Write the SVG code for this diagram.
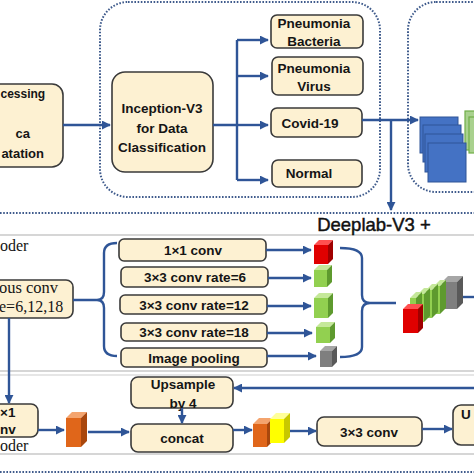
<svg xmlns="http://www.w3.org/2000/svg" width="474" height="474" viewBox="0 0 474 474">
<defs>
<style>
.bx{fill:#FDF1D2;stroke:#3A3A3A;stroke-width:1.6}
.t{font-family:"Liberation Sans",Arial,sans-serif;font-weight:bold;font-size:13.5px;fill:#151515;text-anchor:middle}
.s{font-family:"Liberation Serif","Times New Roman",serif;font-size:16px;fill:#151515}
.dot{fill:none;stroke:#3F5B8C;stroke-width:2;stroke-dasharray:1.6 1.6}
.gl{stroke:#D6D6D6;stroke-width:2}
.c{fill:none;stroke:#2F5597;stroke-width:2.4}
.a{fill:none;stroke:#2F5597;stroke-width:2.4;marker-end:url(#ah)}
.bl{fill:#4472C4;stroke:#2F5597;stroke-width:1}
.gr{fill:#A9D18E;stroke:#70AD47;stroke-width:1.2}
</style>
<marker id="ah" viewBox="0 0 10 10" refX="9" refY="5" markerWidth="9" markerHeight="9" markerUnits="userSpaceOnUse" orient="auto">
<path d="M0,0 L10,5 L0,10 z" fill="#2F5597"/>
</marker>
</defs>
<rect width="474" height="474" fill="#FFFFFF"/>

<g id="frames">
<rect class="dot" x="100" y="2" width="280" height="195" rx="28"/>
<rect class="dot" x="408" y="2" width="120" height="190" rx="28"/>
<line class="dot" x1="0" y1="213" x2="474" y2="213"/>
<line class="dot" x1="0" y1="472" x2="474" y2="472"/>
<line class="gl" x1="0" y1="235" x2="474" y2="235"/>
<line class="gl" x1="0" y1="371" x2="474" y2="371"/>
<line class="gl" x1="0" y1="375" x2="474" y2="375" stroke-opacity="0.6"/>
<line class="gl" x1="0" y1="454" x2="474" y2="454"/>
</g>

<g id="preprocessing">
<rect class="bx" x="-60" y="84" width="123" height="83" rx="11"/>
<text class="t" x="0.5" y="98" style="text-anchor:start;font-size:12px">cessing</text>
<text class="t" x="30" y="138" style="text-anchor:end;font-size:13px">ca</text>
<text class="t" x="44" y="158" style="text-anchor:end;font-size:13px">atation</text>
</g>

<g id="inception">
<rect class="bx" x="112" y="72" width="101" height="100" rx="13"/>
<text class="t" x="162" y="113">Inception-V3</text>
<text class="t" x="162" y="133">for Data</text>
<text class="t" x="162" y="152">Classification</text>
</g>

<g id="bacteria">
<rect class="bx" x="271" y="15" width="92" height="33" rx="6"/>
<text class="t" x="314" y="28">Pneumonia</text>
<text class="t" x="314" y="46">Bacteria</text>
</g>
<g id="virus">
<rect class="bx" x="272" y="57" width="91" height="38" rx="6"/>
<text class="t" x="314" y="73">Pneumonia</text>
<text class="t" x="314" y="91">Virus</text>
</g>
<g id="covid">
<rect class="bx" x="271" y="108" width="91" height="29" rx="6"/>
<text class="t" x="310" y="128">Covid-19</text>
</g>
<g id="normal">
<rect class="bx" x="272" y="160" width="90" height="27" rx="6"/>
<text class="t" x="309" y="178">Normal</text>
</g>

<g id="segmentation-output">
<rect class="gr" x="465" y="111" width="20" height="39"/>
<rect class="gr" x="469" y="117" width="20" height="36"/>
<rect class="bl" x="420" y="117" width="38" height="36"/>
<rect class="bl" x="423" y="125" width="38" height="37"/>
<rect class="bl" x="425" y="134" width="38" height="38"/>
<rect class="bl" x="428" y="143" width="38" height="39"/>
</g>

<g id="deeplab-title">
<text x="374" y="231" style="font-family:'Liberation Sans',Arial,sans-serif;font-size:18.5px;fill:#111;stroke:#111;stroke-width:0.45;text-anchor:middle">Deeplab-V3 +</text>
</g>

<g id="encoder-label">
<text class="s" x="0" y="251">oder</text>
</g>

<g id="atrous">
<rect class="bx" x="-40" y="280" width="113" height="38" rx="7"/>
<text class="s" x="-1" y="293" style="font-size:16.5px">ous conv</text>
<text class="s" x="-1" y="312">e=6,12,18</text>
</g>

<g id="conv1x1">
<rect class="bx" x="119" y="239" width="147" height="22" rx="5"/>
<text class="t" x="193" y="255">1×1 conv</text>
</g>
<g id="rate6">
<rect class="bx" x="121" y="267" width="147" height="20" rx="5"/>
<text class="t" x="195" y="282">3×3 conv rate=6</text>
</g>
<g id="rate12">
<rect class="bx" x="120" y="295" width="147" height="19" rx="5"/>
<text class="t" x="194" y="309.5">3×3 conv rate=12</text>
</g>
<g id="rate18">
<rect class="bx" x="121" y="323" width="146" height="18" rx="5"/>
<text class="t" x="194" y="337">3×3 conv rate=18</text>
</g>
<g id="pooling">
<rect class="bx" x="121" y="348" width="146" height="19" rx="5"/>
<text class="t" x="194" y="362.5">Image pooling</text>
</g>

<g id="feature-cubes">
<path d="M314,245 l5,-5 h14 l-5,5 z" fill="#FF5050"/>
<path d="M328,245 l5,-5 v19 l-5,5 z" fill="#A00000"/>
<rect x="314" y="245" width="14" height="19" fill="#E00000"/>
<path d="M314,270 l5,-5 h13 l-5,5 z" fill="#C5E89A"/>
<path d="M327,270 l5,-5 v17 l-5,5 z" fill="#5E9A2E"/>
<rect x="314" y="270" width="13" height="17" fill="#92D050"/>
<path d="M314,298 l5,-5 h14 l-5,5 z" fill="#C5E89A"/>
<path d="M328,298 l5,-5 v20 l-5,5 z" fill="#5E9A2E"/>
<rect x="314" y="298" width="14" height="20" fill="#92D050"/>
<path d="M316,327 l5,-5 h14 l-5,5 z" fill="#C5E89A"/>
<path d="M330,327 l5,-5 v16 l-5,5 z" fill="#5E9A2E"/>
<rect x="316" y="327" width="14" height="16" fill="#92D050"/>
<path d="M320,351 l5,-5 h12 l-5,5 z" fill="#A6A6A6"/>
<path d="M332,351 l5,-5 v16 l-5,5 z" fill="#595959"/>
<rect x="320" y="351" width="12" height="16" fill="#7F7F7F"/>
</g>

<g id="concat-stack">
<path d="M442,282 l6,-6 h15 l-6,6 z" fill="#A6A6A6"/>
<path d="M457,282 l6,-6 v27 l-6,6 z" fill="#595959"/>
<rect x="442" y="282" width="15" height="27" fill="#7F7F7F"/>
<path d="M434,286 l6,-6 h6 l-6,6 z" fill="#C5E89A"/>
<path d="M440,286 l6,-6 v28 l-6,6 z" fill="#5E9A2E"/>
<rect x="434" y="286" width="6" height="28" fill="#92D050"/>
<path d="M426,290 l6,-6 h6 l-6,6 z" fill="#C5E89A"/>
<path d="M432,290 l6,-6 v28 l-6,6 z" fill="#5E9A2E"/>
<rect x="426" y="290" width="6" height="28" fill="#92D050"/>
<path d="M418,294 l6,-6 h6 l-6,6 z" fill="#C5E89A"/>
<path d="M424,294 l6,-6 v28 l-6,6 z" fill="#5E9A2E"/>
<rect x="418" y="294" width="6" height="28" fill="#92D050"/>
<path d="M410,298 l6,-6 h6 l-6,6 z" fill="#C5E89A"/>
<path d="M416,298 l6,-6 v28 l-6,6 z" fill="#5E9A2E"/>
<rect x="410" y="298" width="6" height="28" fill="#92D050"/>
<path d="M403,309 l5,-5 h15 l-5,5 z" fill="#FF5050"/>
<path d="M418,309 l5,-5 v24 l-5,5 z" fill="#A00000"/>
<rect x="403" y="309" width="15" height="24" fill="#E00000"/>
</g>

<g id="decoder-label">
<text class="s" x="0" y="451">oder</text>
</g>

<g id="dec-conv1x1">
<rect class="bx" x="-40" y="404" width="78" height="33" rx="7"/>
<text class="t" x="0" y="417" style="text-anchor:start">×1</text>
<text class="t" x="0" y="434" style="text-anchor:start">nv</text>
</g>

<g id="low-level-cube">
<path d="M66,418 l6,-6 h15 l-6,6 z" fill="#F4A46E"/>
<path d="M81,418 l6,-6 v29 l-6,6 z" fill="#A9470D"/>
<rect x="66" y="418" width="15" height="29" fill="#E0661A"/>
</g>

<g id="upsample">
<rect class="bx" x="131" y="377" width="102" height="31" rx="7"/>
<text class="t" x="183" y="389">Upsample</text>
<text class="t" x="183" y="408">by 4</text>
</g>

<g id="concat">
<rect class="bx" x="131" y="424" width="102" height="28" rx="7"/>
<text class="t" x="182" y="443">concat</text>
</g>

<g id="concat-cubes">
<path d="M253,424 l6,-6 h14 l-6,6 z" fill="#F4A46E"/>
<path d="M267,424 l6,-6 v23 l-6,6 z" fill="#A9470D"/>
<rect x="253" y="424" width="14" height="23" fill="#E0661A"/>
<path d="M270,419 l6,-6 h14 l-6,6 z" fill="#FFFF99"/>
<path d="M284,419 l6,-6 v24 l-6,6 z" fill="#C8C800"/>
<rect x="270" y="419" width="14" height="24" fill="#FFFF00"/>
</g>

<g id="conv3x3">
<rect class="bx" x="317" y="417" width="105" height="29" rx="7"/>
<text class="t" x="369" y="437">3×3 conv</text>
</g>

<g id="final-upsample">
<rect class="bx" x="453" y="405" width="60" height="40" rx="8"/>
<text class="t" x="461" y="419" style="text-anchor:start">U</text>
</g>

<g id="connectors">
<path class="a" d="M63,125 H110"/>
<path class="c" d="M213,125 H237 M237,40 V180"/>
<path class="a" d="M237,40 H268"/>
<path class="a" d="M237,76 H268"/>
<path class="a" d="M237,125 H268"/>
<path class="a" d="M237,180 H268"/>
<path class="a" d="M362,120 H418"/>
<path class="a" d="M391,120 V210"/>
<path class="a" d="M266,250 H311"/>
<path class="a" d="M268,278 H311"/>
<path class="a" d="M267,306 H311"/>
<path class="a" d="M267,333 H312"/>
<path class="a" d="M267,356 H316"/>
<path class="c" d="M73,300 H98 M117,243 Q104,243 104,253 V292 Q104,300 97,300 Q104,300 104,308 V346 Q104,356 117,356"/>
<path class="c" d="M340,248 Q362,248 362,258 V295 Q362,303 370,303 H396 M370,303 Q362,303 362,311 V347 Q362,357 340,357"/>
<path class="c" d="M463,297 H474"/>
<path class="a" d="M9,318 V403"/>
<path class="a" d="M38,430 H64"/>
<path class="a" d="M88,432 H129"/>
<path class="a" d="M182,408 V423"/>
<path class="a" d="M233,430 H252"/>
<path class="a" d="M290,431 H316"/>
<path class="a" d="M422,429 H452"/>
<path class="a" d="M474,388 H234"/>
</g>
</svg>
